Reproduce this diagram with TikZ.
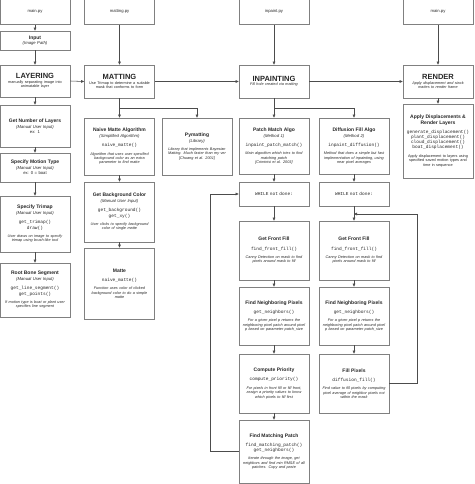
\documentclass[tikz,border=0pt]{standalone}
\usepackage{fontspec}
\setmainfont{Liberation Sans}
\setmonofont{Liberation Mono}
\usetikzlibrary{arrows.meta,positioning}

\hyphenpenalty=10000
\exhyphenpenalty=10000
\newcommand{\ttl}[1]{{\fontsize{5}{6}\selectfont\bfseries #1}}
\newcommand{\bigttl}[1]{{\fontsize{7.5}{8}\selectfont\bfseries #1}}
\newcommand{\subttl}[1]{{\fontsize{4.2}{5}\selectfont\itshape #1}}
\newcommand{\fn}[1]{{\fontsize{4.5}{5.2}\selectfont\ttfamily #1}}
\newcommand{\dsc}[1]{{\fontsize{3.8}{4.4}\selectfont\itshape #1\par}}

\begin{document}
\begin{tikzpicture}[
    x=1pt, y=-1pt,
    >={Triangle[length=3pt,width=2.6pt]},
    font=\fontsize{4.2}{5.2}\selectfont,
    blk/.style={draw=black!50, line width=0.6pt, align=center, text width=68pt,
                minimum width=70pt, inner sep=1pt, text=black!85},
    lnk/.style={->, draw=black!70, line width=0.55pt}
  ]
  \useasboundingbox (0,0) rectangle (474,484);

  % main.py (left column)
  \node[blk, minimum height=25.5pt] (mainL) at (35,11.75) {main.py};
  \node[blk, minimum height=19pt] (input) at (35,40.5) {\ttl{Input}\\\subttl{(Image Path)}};
  \node[blk, minimum height=32pt] (layer) at (35,81) {
    \bigttl{LAYERING}\\
    \dsc{\upshape manually separating image into\\animatable layer}
  };
  \node[blk, minimum height=42pt] (nlayers) at (35,126) {
    \ttl{Get Number of Layers}\\[0.5pt]
    \subttl{(Manual User Input)}\\
    ex: 1
  };
  \node[blk, minimum height=29pt] (motion) at (35,167.5) {
    \ttl{Specify Motion Type}\\[0.5pt]
    \subttl{(Manual User Input)}\\
    ex: 0 = boat
  };
  \node[blk, minimum height=56pt] (trimap) at (35,224) {
    \ttl{Specify Trimap}\\[0.5pt]
    \subttl{(Manual User Input)}\\[4pt]
    \fn{get\_trimap()\\draw()}\\[4pt]
    \dsc{User draws on image to specify\\trimap using brush-like tool}
  };
  \node[blk, minimum height=54pt] (bone) at (35,290) {
    \ttl{Root Bone Segment}\\[0.5pt]
    \subttl{(Manual User Input)}\\[4pt]
    \fn{get\_line\_segment()\\get\_points()}\\[4pt]
    \dsc{If motion type is boat or plant user\\specifies line segment}
  };

  % matting.py
  \node[blk, minimum height=25.5pt] (mattingpy) at (119.5,11.75) {matting.py};
  \node[blk, minimum height=33pt] (matting) at (119.5,81.5) {
    \bigttl{MATTING}\\
    \dsc{\upshape Use Trimap to determine a suitable\\mask that conforms to form}
  };
  \node[blk, minimum height=57pt] (naive) at (119.5,146.5) {
    \ttl{Naive Matte Algorithm}\\[0.5pt]
    \subttl{(Simplified Algorithm)}\\[4pt]
    \fn{naive\_matte()}\\[4pt]
    \dsc{Algorithm that uses user specified\\background color as an extra\\parameter to find matte}
  };
  \node[blk, minimum height=57pt] (pymat) at (197,146.5) {
    \ttl{Pymatting}\\[0.5pt]
    \subttl{(Library)}\\[4pt]
    \dsc{Library that implements Bayesian\\Matting. Much faster than my ver\\{}[Chuang et al. 2001]}
  };
  \node[blk, minimum height=60pt] (bgcolor) at (119.5,212) {
    \ttl{Get Background Color}\\[0.5pt]
    \subttl{(Manual User Input)}\\[4pt]
    \fn{get\_background()\\get\_xy()}\\[4pt]
    \dsc{User clicks to specify background\\color of single matte}
  };
  \node[blk, minimum height=71pt] (matte) at (119.5,283.5) {
    \ttl{Matte}\\[4pt]
    \fn{naive\_matte()}\\[4pt]
    \dsc{Function uses color of clicked\\background color to do a simple\\matte}
  };

  % inpaint.py
  \node[blk, minimum height=25.5pt] (inpaintpy) at (274,11.75) {inpaint.py};
  \node[blk, minimum height=33pt] (inpaint) at (274,81.5) {
    \bigttl{INPAINTING}\\
    \dsc{Fill hole created via matting}
  };

  % method 1: patch match
  \node[blk, minimum height=56pt] (patch) at (274,146) {
    \ttl{Patch Match Algo}\\[0.5pt]
    \subttl{(Method 1)}\\[4pt]
    \fn{inpaint\_patch\_match()}\\[4pt]
    \dsc{Main algorithm which tries to find\\matching patch\\{}[Criminisi et al. 2003]}
  };
  \node[blk, minimum height=24pt] (whileA) at (274,194) {\fn{WHILE not done:}};
  \node[blk, minimum height=59pt] (frontA) at (274,250.5) {
    \ttl{Get Front Fill}\\[4pt]
    \fn{find\_front\_fill()}\\[4pt]
    \dsc{Canny Detection on mask to find\\pixels around mask to fill}
  };
  \node[blk, minimum height=58pt] (neighA) at (274,316) {
    \ttl{Find Neighboring Pixels}\\[4pt]
    \fn{get\_neighbors()}\\[4pt]
    \dsc{For a given pixel p returns the\\neighboring pixel patch around pixel\\p based on parameter patch\_size}
  };
  \node[blk, minimum height=59pt] (prio) at (274,383.5) {
    \ttl{Compute Priority}\\[4pt]
    \fn{compute\_priority()}\\[4pt]
    \dsc{For pixels in front fill or fill front,\\assign a priority values to know\\which pixels to fill first}
  };
  \node[blk, minimum height=63pt] (match) at (274,451.5) {
    \ttl{Find Matching Patch}\\[4pt]
    \fn{find\_matching\_patch()\\get\_neighbors()}\\[4pt]
    \dsc{Iterate through the image, get\\neighbors and find min RMSE of all\\patches. Copy and paste}
  };

  % method 2: diffusion fill
  \node[blk, minimum height=56pt] (diff) at (354,146) {
    \ttl{Diffusion Fill Algo}\\[0.5pt]
    \subttl{(Method 2)}\\[4pt]
    \fn{inpaint\_diffusion()}\\[4pt]
    \dsc{Method that does a simple but fast\\implementation of inpainting, using\\near pixel averages}
  };
  \node[blk, minimum height=24pt] (whileB) at (354,194) {\fn{WHILE not done:}};
  \node[blk, minimum height=59pt] (frontB) at (354,250.5) {
    \ttl{Get Front Fill}\\[4pt]
    \fn{find\_front\_fill()}\\[4pt]
    \dsc{Canny Detection on mask to find\\pixels around mask to fill}
  };
  \node[blk, minimum height=58pt] (neighB) at (354,316) {
    \ttl{Find Neighboring Pixels}\\[4pt]
    \fn{get\_neighbors()}\\[4pt]
    \dsc{For a given pixel p returns the\\neighboring pixel patch around pixel\\p based on parameter patch\_size}
  };
  \node[blk, minimum height=59pt] (fillpx) at (354,383.5) {
    \ttl{Fill Pixels}\\[4pt]
    \fn{diffusion\_fill()}\\[4pt]
    \dsc{Find value to fill pixels by computing\\pixel average of neighbor pixels not\\within the mask}
  };
  \coordinate (joinB) at (354,214);

  % main.py (right column)
  \node[blk, minimum height=25.5pt] (mainR) at (438,11.75) {main.py};
  \node[blk, minimum height=33pt] (render) at (438,81.5) {
    \bigttl{RENDER}\\
    \dsc{Apply displacement and stack\\mattes to render frame}
  };
  \node[blk, minimum height=74pt] (apply) at (438,141) {
    \ttl{Apply Displacements \&\\Render Layers}\\[4pt]
    \fn{generate\_displacement()\\plant\_displacement()\\cloud\_displacement()\\boat\_displacement()}\\[4pt]
    \dsc{\upshape Apply displacement to layers using\\specified saved motion types and\\time in sequence}
  };

  % left column chain
  \draw[lnk] (mainL) -- (input);
  \draw[lnk] (input) -- (layer);
  \draw[lnk] (layer) -- (nlayers);
  \draw[lnk] (nlayers) -- (motion);
  \draw[lnk] (motion) -- (trimap);
  \draw[lnk] (trimap) -- (bone);

  % stage to stage
  \draw[lnk] (layer.east) -- (matting.west);
  \draw[lnk] (matting.east) -- (inpaint.west);
  \draw[lnk] (inpaint.east) -- (render.west);

  % matting
  \draw[lnk] (mattingpy) -- (matting);
  \draw[lnk] (matting) -- (naive);
  \draw[lnk] (matting.south) -- ++(0,10) -| (pymat.north);
  \draw[lnk] (naive) -- (bgcolor);
  \draw[lnk] (bgcolor) -- (matte);

  % inpainting
  \draw[lnk] (inpaintpy) -- (inpaint);
  \draw[lnk] (inpaint) -- (patch);
  \draw[lnk] (inpaint.south) -- ++(0,10) -| (diff.north);
  \draw[lnk] (patch) -- (whileA);
  \draw[lnk] (whileA) -- (frontA);
  \draw[lnk] (frontA) -- (neighA);
  \draw[lnk] (neighA) -- (prio);
  \draw[lnk] (prio) -- (match);
  \draw[lnk] (match.west) -- ++(-28,0) |- (whileA.west);
  \draw[lnk] (diff) -- (whileB);
  \draw[lnk] (whileB) -- (frontB);
  \draw[lnk] (frontB) -- (neighB);
  \draw[lnk] (neighB) -- (fillpx);
  \draw[lnk] (fillpx.east) -- ++(28,0) |- (joinB);

  % render
  \draw[lnk] (mainR) -- (render);
  \draw[lnk] (render) -- (apply);

\end{tikzpicture}
\end{document}
